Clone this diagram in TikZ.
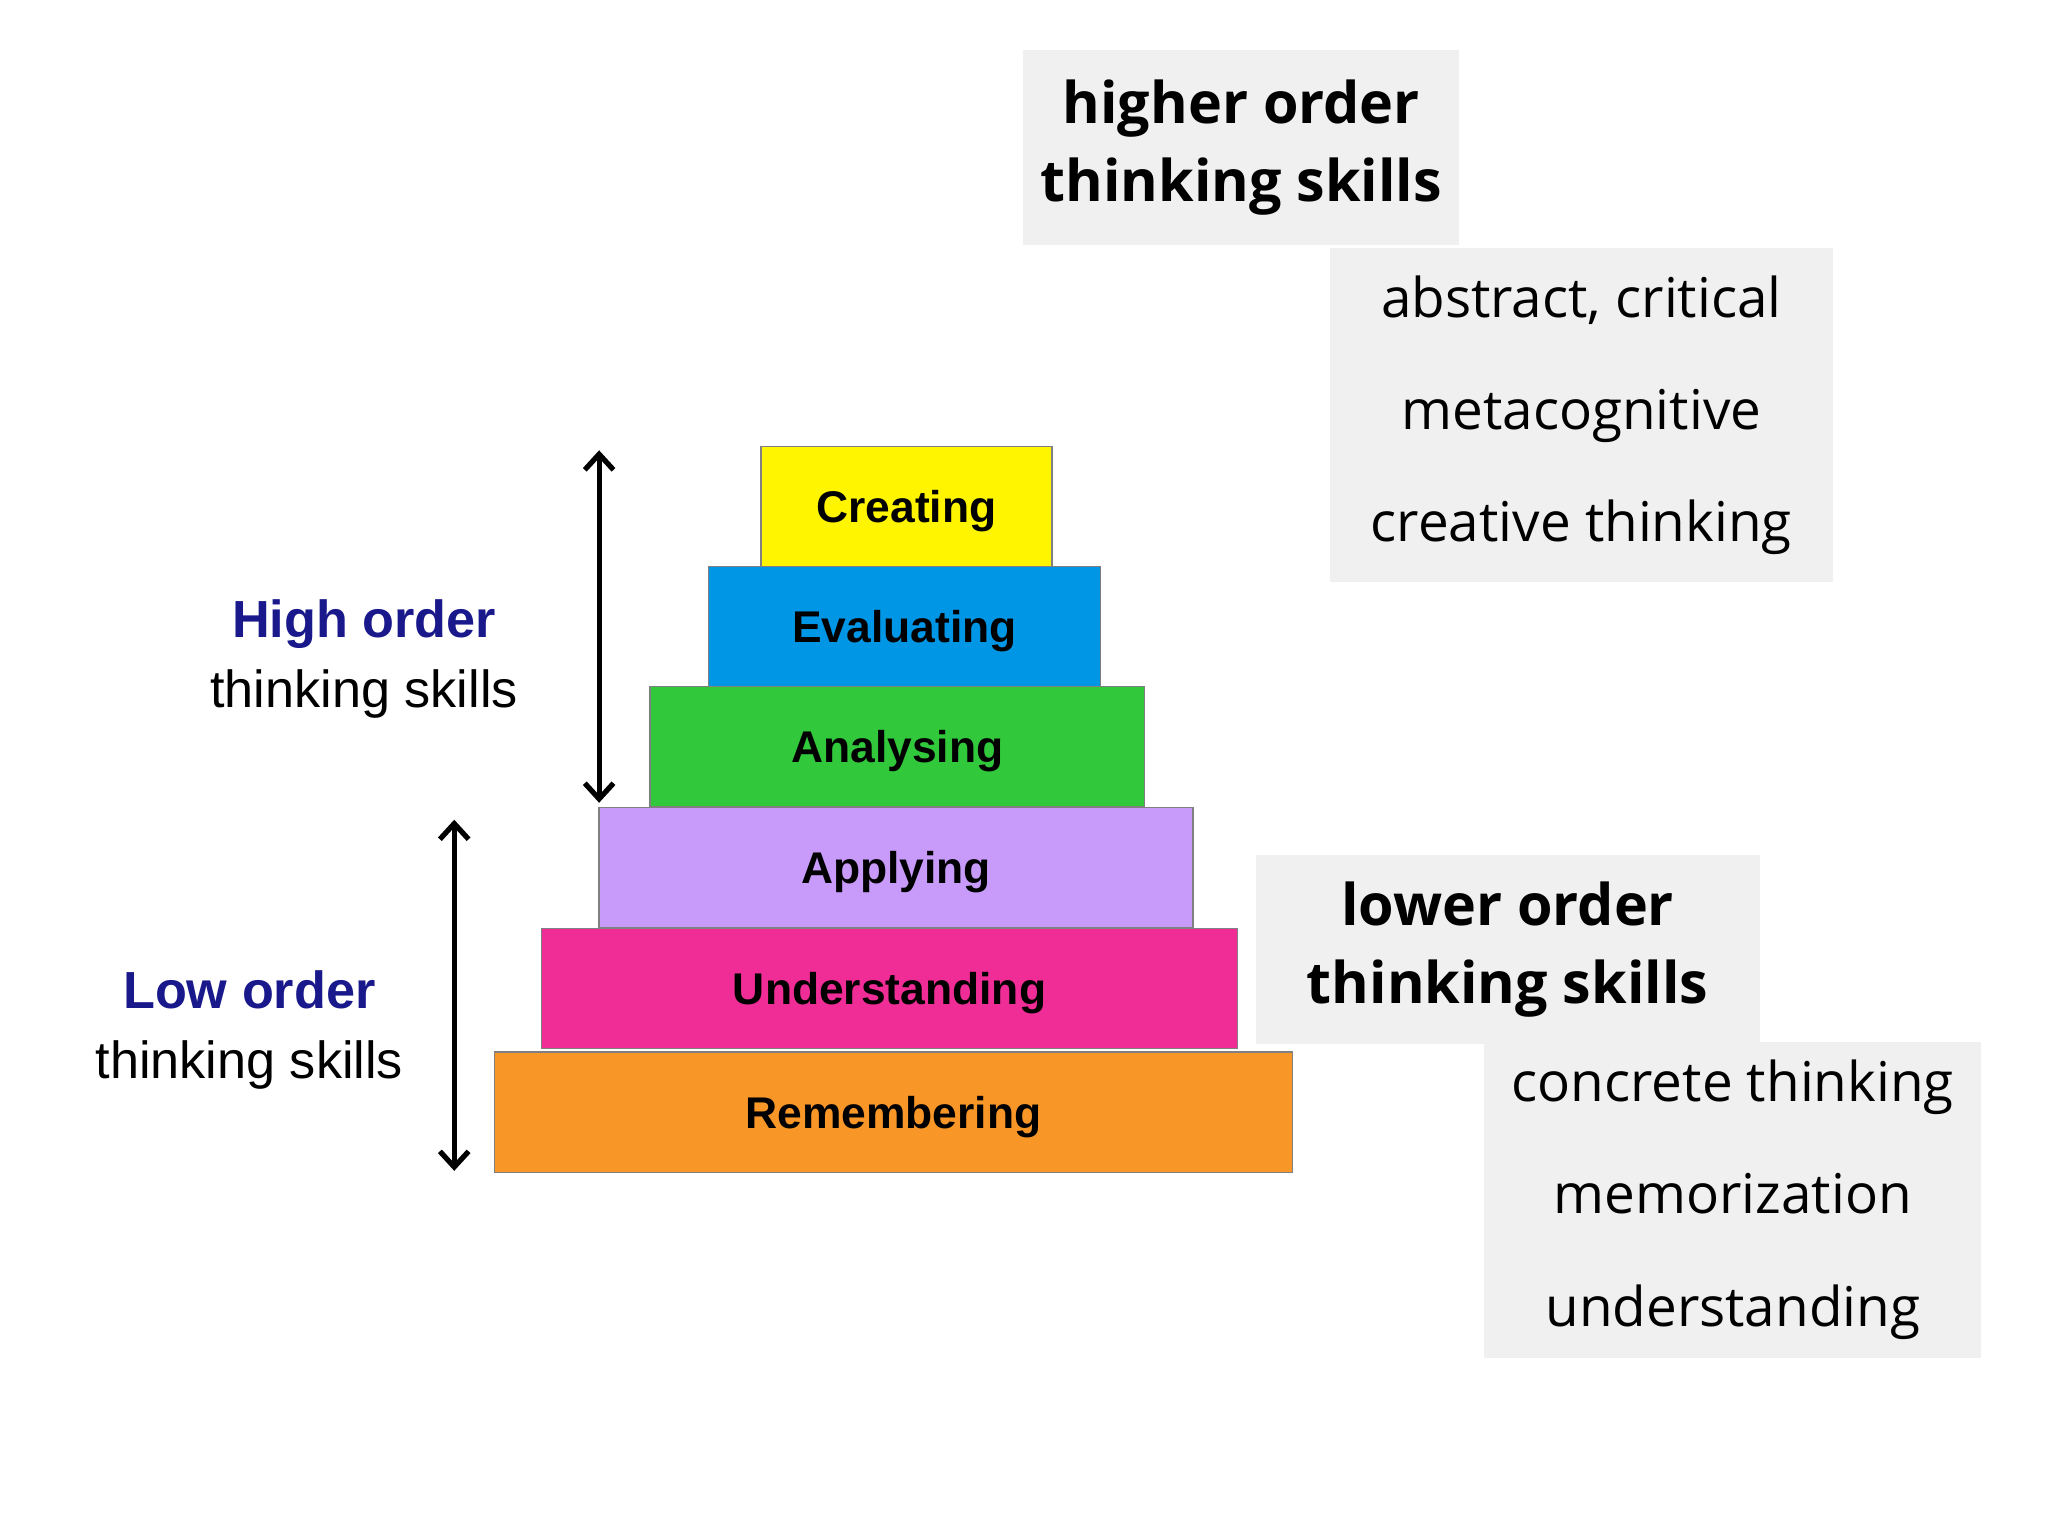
\documentclass[tikz,border=0pt]{standalone}
\usepackage{fontspec}
\usetikzlibrary{arrows.meta}
\setmainfont{Liberation Sans}
\newfontfamily\hand{Open Sans}
\begin{document}
\begin{tikzpicture}[x=1pt,y=-1pt,
  level/.style={draw=black!50,line width=1pt,minimum height=92pt,inner sep=0pt,
    text depth=-4pt,font=\fontsize{34}{34}\selectfont\bfseries},
  note/.style={fill=black!6,inner sep=0pt,align=center},
  dbl/.style={{Straight Barb[length=12pt,width=22pt,line width=4pt]}-{Straight Barb[length=12pt,width=22pt,line width=4pt]},line width=4pt}]
\useasboundingbox (0,0) rectangle (1569,1177);
\definecolor{cyel}{RGB}{255,245,0}
\definecolor{cblu}{RGB}{0,150,230}
\definecolor{cgrn}{RGB}{50,200,60}
\definecolor{clav}{RGB}{200,155,250}
\definecolor{cpnk}{RGB}{240,45,150}
\definecolor{corg}{RGB}{248,150,40}
\definecolor{navy}{RGB}{25,25,140}
\node[level,fill=cyel,minimum width=223pt] (cr) at (694.5,388) {Creating};
\node[level,fill=cblu,minimum width=300pt] (ev) at (693,480) {Evaluating};
\node[level,fill=cgrn,minimum width=379pt] (an) at (687.5,572) {Analysing};
\node[level,fill=clav,minimum width=455pt] (ap) at (686.5,664.5) {Applying};
\node[level,fill=cpnk,minimum width=533pt] (un) at (681.5,757.5) {Understanding};
\node[level,fill=corg,minimum width=611pt] (re) at (684.5,852) {Remembering};
\coordinate (h1) at (459,345); \coordinate (h2) at (459,615);
\coordinate (l1) at (348,628); \coordinate (l2) at (348,897);
\draw[dbl] (h1) -- (h2);
\draw[dbl] (l1) -- (l2);
\node[align=center,font=\fontsize{40}{54}\selectfont] (ho) at (279,505)
  {\textcolor{navy}{\bfseries High order}\\thinking skills};
\node[align=center,font=\fontsize{40}{54}\selectfont] (lo) at (191,789)
  {\textcolor{navy}{\bfseries Low order}\\thinking skills};
\node[note,minimum width=334pt,minimum height=150pt,font=\hand\fontsize{44}{60}\selectfont\bfseries] (hn) at (951,113)
  {higher order\\thinking skills};
\node[note,minimum width=385pt,minimum height=256pt,font=\hand\fontsize{42}{86}\selectfont] (hd) at (1211.5,318)
  {abstract, critical\\metacognitive\\creative thinking};
\node[note,minimum width=386pt,minimum height=145pt,font=\hand\fontsize{44}{60}\selectfont\bfseries] (ln) at (1155,727.5)
  {lower order\\thinking skills};
\node[note,minimum width=381pt,minimum height=242pt,font=\hand\fontsize{42}{86}\selectfont] (ld) at (1327.5,919)
  {concrete thinking\\memorization\\understanding};
\end{tikzpicture}
\end{document}
